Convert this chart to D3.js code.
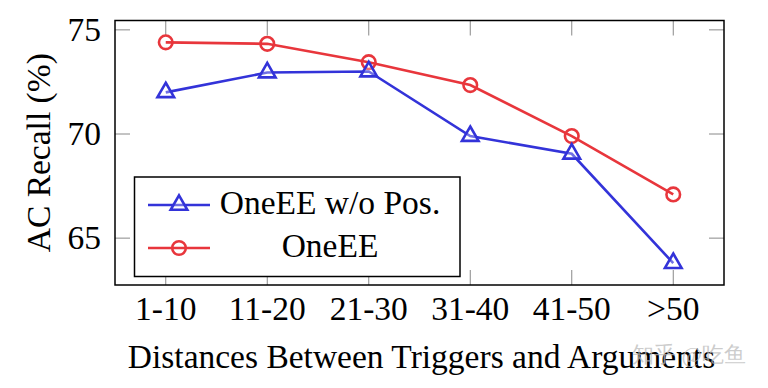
<!DOCTYPE html>
<html>
<head>
<meta charset="utf-8">
<script src="https://cdn.jsdelivr.net/npm/d3@7"></script>
<style>
  body { margin: 0; background: #fff; }
  text { font-family: "Liberation Serif", "Times New Roman", serif; }
</style>
</head>
<body>
<svg id="chart" width="768" height="388"></svg>
<script>
const categories = ["1-10", "11-20", "21-30", "31-40", "41-50", ">50"];
const withoutPos = [72.0, 72.95, 73.0, 69.9, 69.05, 63.8];
const oneEE = [74.4, 74.33, 73.45, 72.35, 69.9, 67.1];
const yTicks = [65, 70, 75];

const svg = d3.select("svg#chart");

const plotLeft = 115, plotRight = 724, plotTop = 20.5, plotBottom = 285;
const fs = 33.5;

const x = d3.scalePoint().domain(categories).range([plotLeft, plotRight]).padding(0.5);
const y = d3.scaleLinear().domain([62.75, 75.45]).range([plotBottom, plotTop]);

const tickColor = "#888";
const tickLen = 15;

// ticks (inward, mirrored)
const ticks = svg.append("g");
categories.forEach(c => {
  ticks.append("line").attr("x1", x(c)).attr("x2", x(c)).attr("y1", plotBottom).attr("y2", plotBottom - tickLen)
    .attr("stroke", tickColor).attr("stroke-width", 1);
  ticks.append("line").attr("x1", x(c)).attr("x2", x(c)).attr("y1", plotTop).attr("y2", plotTop + tickLen)
    .attr("stroke", tickColor).attr("stroke-width", 1);
});
yTicks.forEach(v => {
  ticks.append("line").attr("x1", plotLeft).attr("x2", plotLeft + tickLen).attr("y1", y(v)).attr("y2", y(v))
    .attr("stroke", tickColor).attr("stroke-width", 1);
  ticks.append("line").attr("x1", plotRight).attr("x2", plotRight - tickLen).attr("y1", y(v)).attr("y2", y(v))
    .attr("stroke", tickColor).attr("stroke-width", 1);
});

// tick labels
svg.append("g").selectAll("text").data(categories).join("text")
  .attr("x", d => x(d)).attr("y", 320)
  .attr("text-anchor", "middle").attr("font-size", fs).attr("fill", "#000")
  .text(d => d);

svg.append("g").selectAll("text").data(yTicks).join("text")
  .attr("x", 101).attr("y", d => y(d) + 11)
  .attr("text-anchor", "end").attr("font-size", fs).attr("fill", "#000")
  .text(d => d);

// axis titles
svg.append("text").attr("x", (plotLeft + plotRight) / 2 + 2).attr("y", 368)
  .attr("text-anchor", "middle").attr("font-size", fs)
  .text("Distances Between Triggers and Arguments");

svg.append("text")
  .attr("transform", `translate(50, ${(plotTop + plotBottom) / 2}) rotate(-90)`)
  .attr("text-anchor", "middle").attr("font-size", fs)
  .text("AC Recall (%)");

const blue = "#3333d9";
const red = "#e8363c";

const line = d3.line().x((d, i) => x(categories[i])).y(d => y(d));

const tri = d3.symbol().type(d3.symbolTriangle).size(120);

function drawSeries(values, color, marker) {
  const g = svg.append("g");
  g.append("path").datum(values).attr("d", line)
    .attr("fill", "none").attr("stroke", color).attr("stroke-width", 2.6);
  values.forEach((v, i) => {
    if (marker === "tri") {
      g.append("path").attr("d", tri)
        .attr("transform", `translate(${x(categories[i])},${y(v)})`)
        .attr("fill", "#fff").attr("fill-opacity", 0.3).attr("stroke", color).attr("stroke-width", 2.6);
    } else {
      g.append("circle").attr("cx", x(categories[i])).attr("cy", y(v)).attr("r", 6.8)
        .attr("fill", "none").attr("stroke", color).attr("stroke-width", 2.6);
    }
  });
}

drawSeries(oneEE, red, "circle");
drawSeries(withoutPos, blue, "tri");

// legend
const lg = svg.append("g");
lg.append("rect").attr("x", 134.5).attr("y", 177).attr("width", 325.5).attr("height", 99.5)
  .attr("fill", "#fff").attr("stroke", "#000").attr("stroke-width", 1.5);
const legendItems = [
  { name: "OneEE w/o Pos.", color: blue, marker: "tri", y: 205 },
  { name: "OneEE", color: red, marker: "circle", y: 248 }
];
legendItems.forEach(it => {
  lg.append("line").attr("x1", 148).attr("x2", 210).attr("y1", it.y).attr("y2", it.y)
    .attr("stroke", it.color).attr("stroke-width", 2.6);
  if (it.marker === "tri") {
    lg.append("path").attr("d", tri).attr("transform", `translate(179,${it.y})`)
      .attr("fill", "#fff").attr("fill-opacity", 0.3).attr("stroke", it.color).attr("stroke-width", 2.6);
  } else {
    lg.append("circle").attr("cx", 179).attr("cy", it.y).attr("r", 6.8)
      .attr("fill", "none").attr("stroke", it.color).attr("stroke-width", 2.6);
  }
  lg.append("text").attr("x", 330).attr("y", it.y + 9).attr("text-anchor", "middle")
    .attr("font-size", fs).text(it.name);
});

// frame
svg.append("rect").attr("x", plotLeft).attr("y", plotTop).attr("width", plotRight - plotLeft).attr("height", plotBottom - plotTop)
  .attr("fill", "none").attr("stroke", "#000").attr("stroke-width", 1.5);

// watermark
svg.append("text").attr("x", 632).attr("y", 362)
  .attr("font-family", "Noto Sans CJK SC").attr("font-size", 22)
  .attr("fill", "#bbb").attr("fill-opacity", 0.75)
  .text("知乎 @吃鱼");
</script>
</body>
</html>
